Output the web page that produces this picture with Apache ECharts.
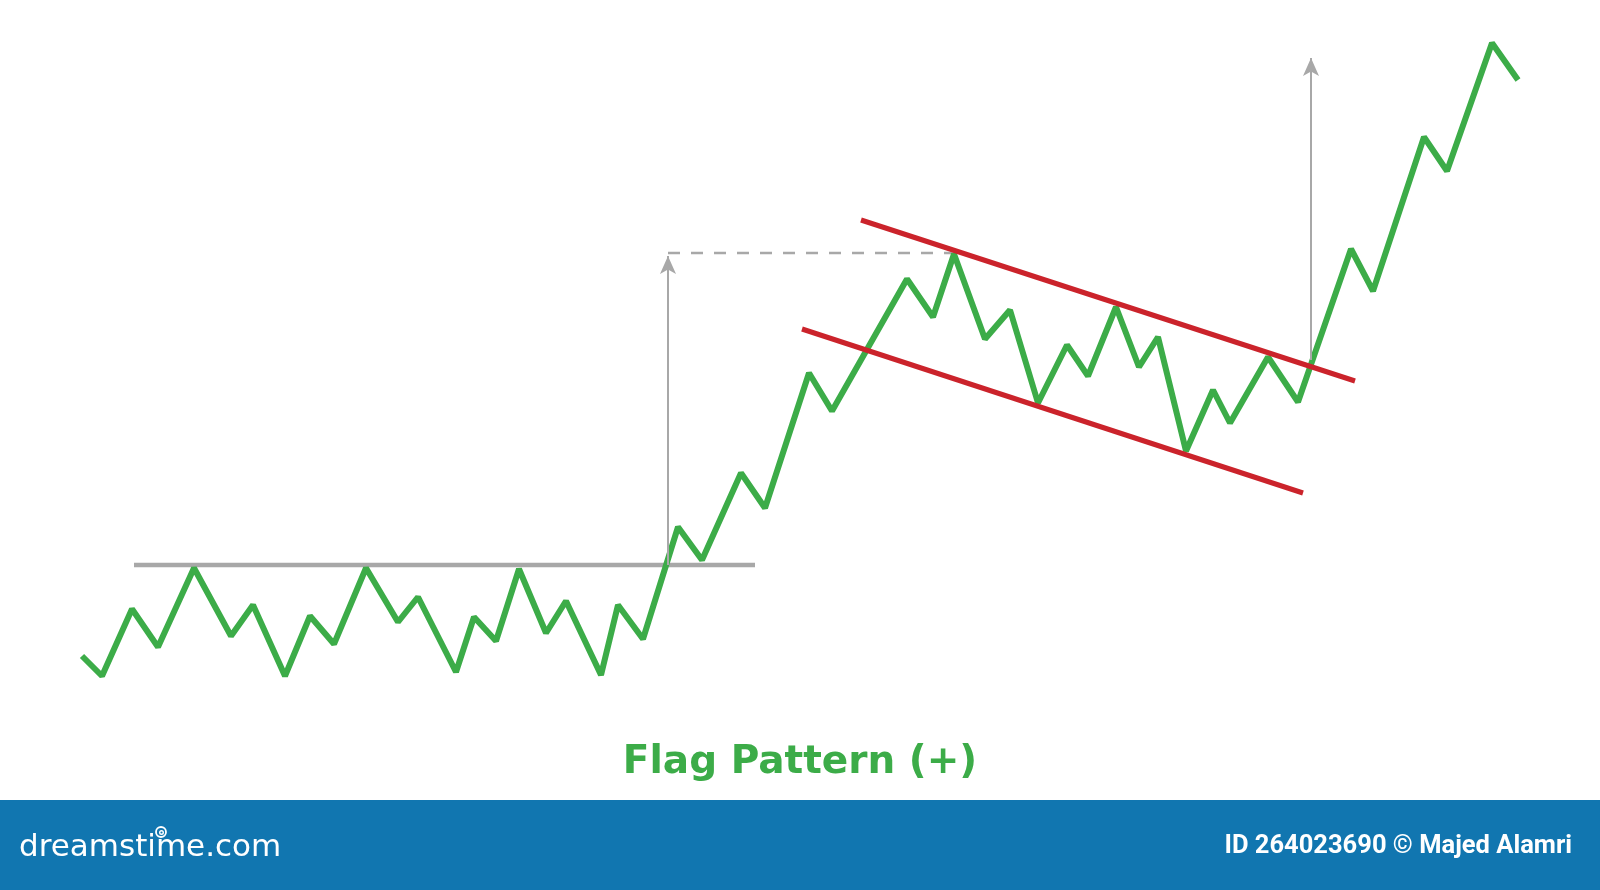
<!DOCTYPE html>
<html>
<head>
<meta charset="utf-8">
<script src="https://cdn.jsdelivr.net/npm/echarts@6/dist/echarts.min.js"></script>
<style>
html,body{margin:0;padding:0;background:#ffffff;}
#chart{width:1600px;height:890px;}
</style>
</head>
<body>
<div id="chart"></div>
<script>
// ---- data (time on x, price on y) ----
const times = [82, 102, 132, 158, 194, 231, 253, 285, 310, 334, 366, 398, 418, 456, 474, 496, 519, 546, 566, 601, 618, 643, 678, 702, 741, 765, 809, 832, 907, 933, 954, 985, 1010, 1038, 1067, 1088, 1116, 1139, 1158, 1186, 1213, 1230, 1268, 1298, 1351, 1373, 1424, 1447, 1492, 1518];
const prices = [234, 214, 281, 243, 322, 254, 285, 214, 274, 246, 322, 268, 293, 218, 273, 249, 321, 257, 289, 215, 285, 251, 363, 330, 417, 382, 517, 479, 611, 573, 636, 551, 580, 487, 545, 514, 583, 523, 553, 439, 500, 467, 533, 488, 641, 599, 753, 719, 847, 810];

const resistanceTimes = [134, 755];
const resistancePrices = [325, 325];

const flagTopTimes = [861, 1355];
const flagTopPrices = [670, 509];
const flagBottomTimes = [802, 1303];
const flagBottomPrices = [561, 397];

const poleArrowTimes = [668, 668];
const poleArrowPrices = [325, 634];
const poleLevelTimes = [668, 954];
const poleLevelPrices = [637, 637];

const targetArrowTimes = [1311, 1311];
const targetArrowPrices = [530, 832];

const titleText = 'Flag Pattern (+)';
const creditText = 'ID 264023690 \u00A9 Majed Alamri';
const logoText = 'dreamstime.com';

// ---- helpers ----
function pairs(xs, ys) { return xs.map((x, i) => [x, ys[i]]); }

const GREEN = '#3cac48';
const RED = '#cb232b';
const GRAY = '#a8a8a8';
const BLUE = '#1176b0';

const chart = echarts.init(document.getElementById('chart'), null, {renderer: 'canvas'});

const option = {
  animation: false,
  backgroundColor: '#ffffff',
  title: {
    text: titleText,
    left: 'center',
    top: 740,
    padding: 0,
    textStyle: {
      fontFamily: 'DejaVu Sans',
      fontWeight: 'bold',
      fontSize: 39,
      lineHeight: 46,
      color: GREEN
    }
  },
  grid: {left: 0, right: 0, top: 0, bottom: 0, containLabel: false},
  xAxis: {type: 'value', min: 0, max: 1600, show: false},
  yAxis: {type: 'value', min: 0, max: 890, show: false},
  series: [
    {
      name: 'resistance',
      type: 'line',
      data: pairs(resistanceTimes, resistancePrices),
      symbol: 'none',
      silent: true,
      lineStyle: {color: GRAY, width: 4.5, cap: 'butt'},
      z: 1
    },
    {
      name: 'pole level',
      type: 'line',
      data: pairs(poleLevelTimes, poleLevelPrices),
      symbol: 'none',
      silent: true,
      lineStyle: {color: GRAY, width: 2.5, type: [12, 11]},
      z: 1
    },
    {
      name: 'arrows',
      type: 'line',
      data: [],
      silent: true,
      z: 1,
      markLine: {
        silent: true,
        symbol: ['none', 'arrow'],
        symbolSize: [12, 18],
        label: {show: false},
        lineStyle: {color: GRAY, width: 2, type: 'solid'},
        emphasis: {disabled: true},
        data: [
          [{coord: [poleArrowTimes[0], poleArrowPrices[0]]}, {coord: [poleArrowTimes[1], poleArrowPrices[1]]}],
          [{coord: [targetArrowTimes[0], targetArrowPrices[0]]}, {coord: [targetArrowTimes[1], targetArrowPrices[1]]}]
        ]
      }
    },
    {
      name: 'price',
      type: 'line',
      data: pairs(times, prices),
      symbol: 'none',
      silent: true,
      lineStyle: {color: GREEN, width: 6, join: 'bevel', cap: 'butt'},
      z: 2
    },
    {
      name: 'flag top',
      type: 'line',
      data: pairs(flagTopTimes, flagTopPrices),
      symbol: 'none',
      silent: true,
      lineStyle: {color: RED, width: 5, cap: 'butt'},
      z: 3
    },
    {
      name: 'flag bottom',
      type: 'line',
      data: pairs(flagBottomTimes, flagBottomPrices),
      symbol: 'none',
      silent: true,
      lineStyle: {color: RED, width: 5, cap: 'butt'},
      z: 3
    }
  ],
  graphic: [
    {
      type: 'rect',
      silent: true,
      shape: {x: 0, y: 800, width: 1600, height: 90},
      style: {fill: BLUE},
      z: 10
    },
    {
      type: 'text',
      silent: true,
      x: 19, y: 863,
      style: {
        text: logoText,
        fill: '#ffffff',
        font: '31px "DejaVu Sans"',
        textAlign: 'left',
        textVerticalAlign: 'bottom'
      },
      z: 11
    },
    {
      type: 'circle',
      silent: true,
      shape: {cx: 161, cy: 832, r: 5},
      style: {fill: 'none', stroke: '#ffffff', lineWidth: 1.8},
      z: 11
    },
    {
      type: 'circle',
      silent: true,
      shape: {cx: 161.5, cy: 832.5, r: 1.8},
      style: {fill: 'none', stroke: '#ffffff', lineWidth: 1.4},
      z: 11
    },
    {
      type: 'text',
      silent: true,
      x: 1572, y: 847,
      style: {
        text: creditText,
        fill: '#ffffff',
        font: 'bold 25.5px Roboto',
        textAlign: 'right',
        textVerticalAlign: 'middle'
      },
      z: 11
    }
  ]
};

chart.setOption(option);
</script>
</body>
</html>
